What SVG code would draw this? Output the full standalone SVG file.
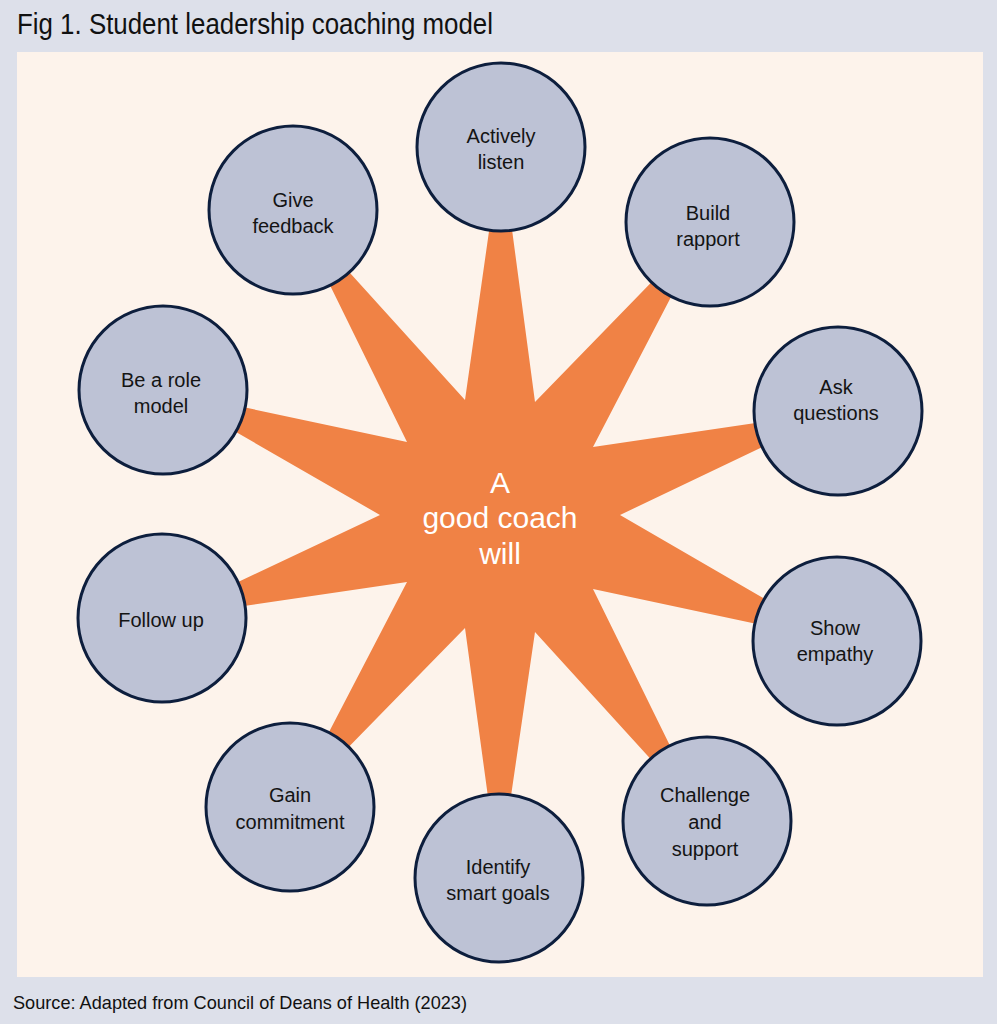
<svg xmlns="http://www.w3.org/2000/svg" width="997" height="1024" viewBox="0 0 997 1024">
  <style>
    .node circle { fill: #bdc2d5; stroke: #0d1e3d; stroke-width: 3; }
    .node text { font-family: "Liberation Sans", Arial, sans-serif; font-size: 20px; fill: #141414; text-anchor: middle; }
    .hub text { font-family: "Liberation Sans", Arial, sans-serif; font-size: 30px; fill: #ffffff; text-anchor: middle; }
  </style>
  <rect x="0" y="0" width="997" height="1024" fill="#dde0ea"/>
  <text x="17" y="34" font-family="'Liberation Sans', Arial, sans-serif" font-size="30" fill="#111" textLength="476" lengthAdjust="spacingAndGlyphs">Fig 1. Student leadership coaching model</text>
  <rect x="17" y="52" width="966" height="925" fill="#fdf3eb"/>
  <text x="13" y="1009" font-family="'Liberation Sans', Arial, sans-serif" font-size="19" fill="#111" textLength="454" lengthAdjust="spacingAndGlyphs">Source: Adapted from Council of Deans of Health (2023)</text>

  <g id="connectors">
    <polygon id="star" fill="#f08245" points="501,147 535,402 710,222 593,447 838,411 620,515 837,641 593,589 707,821 535,632 499,878 465,628 290,807 407,582 162,618 380,515 163,390 407,442 293,210 465,400"/>
  </g>

  <g id="hub" class="hub">
    <text x="500" y="493">A</text>
    <text x="500" y="528">good coach</text>
    <text x="500" y="564">will</text>
  </g>

  <g id="node-actively-listen" class="node">
    <circle cx="501" cy="147" r="84"/>
    <text x="501" y="143">Actively</text>
    <text x="501" y="169">listen</text>
  </g>
  <g id="node-build-rapport" class="node">
    <circle cx="710" cy="222" r="84"/>
    <text x="708" y="220">Build</text>
    <text x="708" y="246">rapport</text>
  </g>
  <g id="node-ask-questions" class="node">
    <circle cx="838" cy="411" r="84"/>
    <text x="836" y="394">Ask</text>
    <text x="836" y="420">questions</text>
  </g>
  <g id="node-show-empathy" class="node">
    <circle cx="837" cy="641" r="84"/>
    <text x="835" y="635">Show</text>
    <text x="835" y="661">empathy</text>
  </g>
  <g id="node-challenge-support" class="node">
    <circle cx="707" cy="821" r="84"/>
    <text x="705" y="802">Challenge</text>
    <text x="705" y="829">and</text>
    <text x="705" y="856">support</text>
  </g>
  <g id="node-identify-smart-goals" class="node">
    <circle cx="499" cy="878" r="84"/>
    <text x="498" y="874">Identify</text>
    <text x="498" y="900">smart goals</text>
  </g>
  <g id="node-gain-commitment" class="node">
    <circle cx="290" cy="807" r="84"/>
    <text x="290" y="802">Gain</text>
    <text x="290" y="829">commitment</text>
  </g>
  <g id="node-follow-up" class="node">
    <circle cx="162" cy="618" r="84"/>
    <text x="161" y="627">Follow up</text>
  </g>
  <g id="node-role-model" class="node">
    <circle cx="163" cy="390" r="84"/>
    <text x="161" y="387">Be a role</text>
    <text x="161" y="413">model</text>
  </g>
  <g id="node-give-feedback" class="node">
    <circle cx="293" cy="210" r="84"/>
    <text x="293" y="207">Give</text>
    <text x="293" y="233">feedback</text>
  </g>
</svg>
